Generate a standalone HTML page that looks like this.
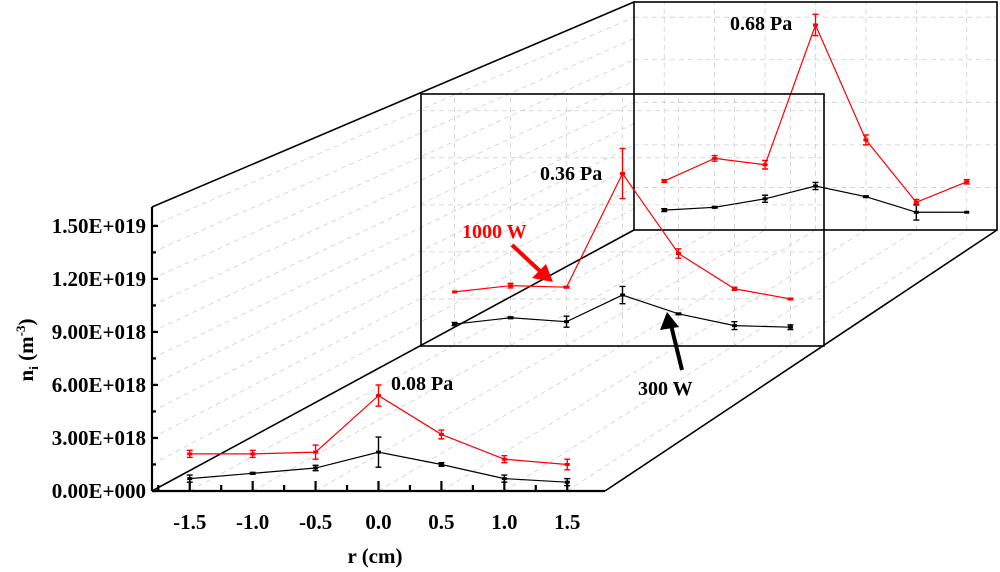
<!DOCTYPE html>
<html><head><meta charset="utf-8"><style>
html,body{margin:0;padding:0;background:#fff;}
svg{display:block;font-family:"Liberation Serif",serif;font-weight:bold;}
</style></head><body>
<svg id="chart" width="1000" height="572" viewBox="0 0 1000 572" xmlns="http://www.w3.org/2000/svg"></svg>
<script>
// ---- data (units of 1e18 m^-3) ----
const categories = [-1.5, -1.0, -0.5, 0.0, 0.5, 1.0, 1.5];
const xTickLabels = ["-1.5", "-1.0", "-0.5", "0.0", "0.5", "1.0", "1.5"];
const yTickValues = [0, 3, 6, 9, 12, 15];
const yTickLabels = ["0.00E+000", "3.00E+018", "6.00E+018", "9.00E+018", "1.20E+019", "1.50E+019"];
const pressures = ["0.08 Pa", "0.36 Pa", "0.68 Pa"];
const red008 = [2.1, 2.1, 2.2, 5.4, 3.2, 1.8, 1.5];
const red008Err = [0.2, 0.2, 0.4, 0.6, 0.25, 0.2, 0.3];
const blk008 = [0.7, 1.0, 1.3, 2.2, 1.5, 0.7, 0.5];
const blk008Err = [0.2, 0.05, 0.15, 0.85, 0.1, 0.2, 0.2];
const red036 = [3.45, 3.85, 3.75, 11.0, 5.9, 3.65, 3.0];
const red036Err = [0, 0.15, 0.05, 1.6, 0.3, 0.1, 0.05];
const blk036 = [1.4, 1.8, 1.55, 3.25, 2.05, 1.3, 1.2];
const blk036Err = [0.1, 0.05, 0.35, 0.55, 0.05, 0.25, 0.15];
const red068 = [3.45, 5.05, 4.6, 14.45, 6.35, 1.95, 3.4];
const red068Err = [0.1, 0.2, 0.3, 0.75, 0.35, 0.2, 0.15];
const blk068 = [1.4, 1.6, 2.2, 3.1, 2.35, 1.25, 1.25];
const blk068Err = [0.1, 0.05, 0.25, 0.25, 0.05, 0.55, 0];

// ---- geometry ----
const planes = [
  {x0:152, y0:491, w:453, h:284},
  {x0:421, y0:346, w:403, h:252},
  {x0:634, y0:230, w:363, h:228}
];
const XMIN=-1.8, XMAX=1.8, YMAX=16.07;
function px(p,x){return p.x0+(x-XMIN)/(XMAX-XMIN)*p.w;}
function py(p,y){return p.y0-y/YMAX*p.h;}
const NS="http://www.w3.org/2000/svg";
const svg=document.getElementById('chart');
function el(tag,attrs,parent){const e=document.createElementNS(NS,tag);for(const k in attrs)e.setAttribute(k,attrs[k]);(parent||svg).appendChild(e);return e;}

const F=planes[0], M=planes[1], B=planes[2];
const grid=el('g',{stroke:'#d0d0d0','stroke-width':0.8,'stroke-dasharray':'5,4',fill:'none'});


yTickValues.concat([1.5,4.5,7.5,10.5,13.5]).forEach(v=>{
  el('line',{x1:px(F,XMIN),y1:py(F,v),x2:px(B,XMIN),y2:py(B,v)},grid);
});
categories.forEach(c=>{
  el('line',{x1:px(F,c),y1:py(F,0),x2:px(B,c),y2:py(B,0)},grid);
});
[M,B].forEach((p,i)=>{
  const g=el('g',{stroke:'#cfcfcf','stroke-width':0.8,'stroke-dasharray':'5,4',fill:'none'});
  
  
  categories.forEach(c=>el('line',{x1:px(p,c),y1:py(p,0),x2:px(p,c),y2:py(p,YMAX)},g));
  yTickValues.slice(1).forEach(v=>el('line',{x1:px(p,XMIN),y1:py(p,v),x2:px(p,XMAX),y2:py(p,v)},g));
});
const fr=el('g',{stroke:'#000','stroke-width':1.6,fill:'none'});


el('rect',{x:B.x0,y:B.y0-B.h,width:B.w,height:B.h},fr);
el('line',{x1:F.x0,y1:F.y0-F.h,x2:B.x0,y2:B.y0-B.h},fr);
el('line',{x1:F.x0,y1:F.y0,x2:B.x0,y2:B.y0},fr);
el('line',{x1:F.x0+F.w,y1:F.y0,x2:B.x0+B.w,y2:B.y0},fr);

function series(p,vals,errs,color,name){
  const g=el('g',{stroke:color,fill:'none','stroke-width':1.2});
  
  
  el('polyline',{points:categories.map((c,i)=>px(p,c)+','+py(p,vals[i])).join(' ')},g);
  categories.forEach((c,i)=>{
    const x=px(p,c),y=py(p,vals[i]);
    const e=errs[i]*p.h/YMAX;
    if(errs[i]>0){
      const eb=el('path',{d:`M${x},${y-e}V${y+e}M${x-3},${y-e}H${x+3}M${x-3},${y+e}H${x+3}`,'stroke-width':1.4},g);
      
      
    }
    const m=el('rect',{x:x-2.5,y:y-1.5,width:5,height:3,fill:color,stroke:'none'},g);
    
    
  });
}
series(B,blk068,blk068Err,'#000','series-300w-068pa');
series(B,red068,red068Err,'#ff0000','series-1000w-068pa');
const mb=el('rect',{x:M.x0,y:M.y0-M.h,width:M.w,height:M.h,fill:'none',stroke:'#000','stroke-width':1.6});


series(M,blk036,blk036Err,'#000','series-300w-036pa');
series(M,red036,red036Err,'#ff0000','series-1000w-036pa');
const ax=el('g',{stroke:'#000','stroke-width':2.2,fill:'none'});


el('line',{x1:F.x0,y1:F.y0,x2:F.x0,y2:F.y0-F.h},ax);
el('line',{x1:F.x0,y1:F.y0,x2:F.x0+F.w,y2:F.y0},ax);
yTickValues.forEach((v,i)=>{
  el('line',{x1:F.x0,y1:py(F,v),x2:F.x0+6,y2:py(F,v)},ax);
  if(v+1.5<YMAX) el('line',{x1:F.x0,y1:py(F,v+1.5),x2:F.x0+4,y2:py(F,v+1.5)},ax);
  const t=el('text',{x:146,y:py(F,v)+7,'text-anchor':'end','font-size':21,fill:'#000',stroke:'none'});
  t.textContent=yTickLabels[i];
  
  
});
categories.forEach((c,i)=>{
  el('line',{x1:px(F,c),y1:F.y0,x2:px(F,c),y2:F.y0-10},ax);
  if(i<categories.length-1) el('line',{x1:px(F,c+0.25),y1:F.y0,x2:px(F,c+0.25),y2:F.y0-6},ax);
  const t=el('text',{x:px(F,c),y:529,'text-anchor':'middle','font-size':21,fill:'#000',stroke:'none'});
  t.textContent=xTickLabels[i];
  
  
});
el('line',{x1:px(F,-1.75),y1:F.y0,x2:px(F,-1.75),y2:F.y0-6},ax);
series(F,blk008,blk008Err,'#000','series-300w-008pa');
series(F,red008,red008Err,'#ff0000','series-1000w-008pa');
</script>
<svg style="position:absolute;left:0;top:0" width="1000" height="572" font-family="Liberation Serif, serif" font-weight="bold">
  <text x="730" y="30" font-size="20">0.68 Pa</text>
  <text x="540" y="180" font-size="20">0.36 Pa</text>
  <text x="391" y="390" font-size="20">0.08 Pa</text>
  <text x="462" y="238" font-size="20" fill="#ff0000">1000 W</text>
  <g>
    <line x1="512" y1="245" x2="541" y2="272" stroke="#ff0000" stroke-width="4"/>
    <polygon points="553,282 532,278 546,264" fill="#ff0000"/>
  </g>
  <text x="638" y="395" font-size="20">300 W</text>
  <g>
    <line x1="682" y1="370" x2="671" y2="325" stroke="#000" stroke-width="4"/>
    <polygon points="667,312 660,330 679,327" fill="#000"/>
  </g>
  <text x="375" y="563" font-size="21" text-anchor="middle">r (cm)</text>
  <text transform="translate(33,350) rotate(-90)" font-size="21" text-anchor="middle">n<tspan font-size="13" dy="5">i</tspan><tspan dy="-5"> (m</tspan><tspan font-size="13" dy="-8">-3</tspan><tspan dy="8">)</tspan></text>
</svg>
</body></html>
